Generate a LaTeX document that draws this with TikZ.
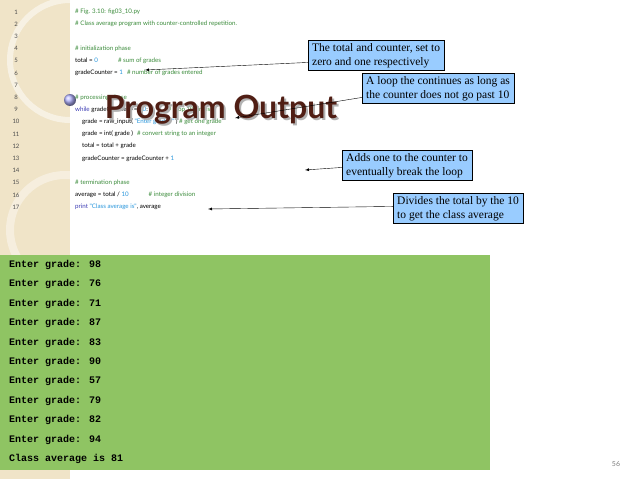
\documentclass[tikz,border=0pt]{standalone}
\usepackage{fontspec}
\setmainfont{Liberation Serif}
\newfontfamily\codef{Lato}
\newfontfamily\monof{Liberation Mono}
\newfontfamily\titlef{Lato}
\definecolor{beige}{RGB}{240,228,200}
\definecolor{cmt}{RGB}{60,140,60}
\definecolor{num}{RGB}{40,150,220}
\definecolor{kw}{RGB}{60,60,180}
\definecolor{outgreen}{RGB}{143,196,99}
\definecolor{callout}{RGB}{153,204,255}
\definecolor{brownt}{RGB}{80,30,20}
\tikzset{
  code/.style={anchor=west,font=\codef\fontsize{6.2}{7}\selectfont,inner sep=0},
  lnum/.style={anchor=center,font=\codef\fontsize{6}{7}\selectfont,text=black!70,inner sep=0},
  outl/.style={anchor=west,font=\monof\bfseries\fontsize{10}{12}\selectfont,inner sep=0},
  callbox/.style={draw=black,fill=callout,anchor=north west,align=left,font=\fontsize{11.5}{14}\selectfont,inner xsep=4pt,inner ysep=3pt},
  arr/.style={-latex,thin}
}
\begin{document}
\begin{tikzpicture}[x=1pt,y=-1pt]
\useasboundingbox (0,0) rectangle (638,479);
\fill[white] (0,0) rectangle (638,479);
\fill[beige] (0,0) rectangle (70,479);
\draw[white,line width=6pt,opacity=0.5] (70,60) circle (60);
\draw[white,line width=8pt,opacity=0.4] (65,230) circle (55);
\shade[ball color=blue!30] (70,100) circle (6);
% line numbers
\foreach \i in {1,...,17} \node[lnum] (n\i) at (16,{12+(\i-1)*12.2}) {\i};
% code
\node[code] (c1) at (75,12) {\textcolor{cmt}{\# Fig. 3.10: fig03\_10.py}};
\node[code] (c2) at (75,24.2) {\textcolor{cmt}{\# Class average program with counter-controlled repetition.}};
\node[code] (c4) at (75,48.6) {\textcolor{cmt}{\# initialization phase}};
\node[code] (c5) at (75,60.8) {total = \textcolor{num}{0}\hspace{20pt}\textcolor{cmt}{\# sum of grades}};
\node[code] (c6) at (75,73) {gradeCounter = \textcolor{num}{1}\hspace{4pt}\textcolor{cmt}{\# number of grades entered}};
\node[code] (c8) at (75,97.4) {\textcolor{cmt}{\# processing phase}};
\node[code] (c9) at (75,109.6) {\textcolor{kw}{while} gradeCounter <= \textcolor{num}{10}:\hspace{20pt}\textcolor{cmt}{\# loop 10 times}};
\node[code] (c10) at (82,121.8) {grade = raw\_input( \textcolor{num}{"Enter grade: "} ) \textcolor{cmt}{\# get one grade}};
\node[code] (c11) at (82,134) {grade = int( grade )\hspace{4pt}\textcolor{cmt}{\# convert string to an integer}};
\node[code] (c12) at (82,146.2) {total = total + grade};
\node[code] (c13) at (82,158.4) {gradeCounter = gradeCounter + \textcolor{num}{1}};
\node[code] (c15) at (75,182.8) {\textcolor{cmt}{\# termination phase}};
\node[code] (c16) at (75,195) {average = total / \textcolor{num}{10}\hspace{20pt}\textcolor{cmt}{\# integer division}};
\node[code] (c17) at (75,207.2) {\textcolor{kw}{print} \textcolor{num}{"Class average is"}, average};
% title
\node[font=\titlef\bfseries\fontsize{32}{36}\selectfont,text=gray!60] at (223,112) {Program Output};
\node[font=\titlef\bfseries\fontsize{32}{36}\selectfont,text=brownt] (title) at (221,110) {Program Output};
% callouts
\node[callbox] (b1) at (308,40) {The total and counter, set to\\zero and one respectively};
\node[callbox] (b2) at (362,73) {A loop the continues as long as\\the counter does not go past 10};
\node[callbox] (b3) at (342,150) {Adds one to the counter to\\eventually break the loop};
\node[callbox] (b4) at (393,193) {Divides the total by the 10\\to get the class average};
\coordinate (t1) at (145,70);
\coordinate (t2) at (235,118);
\coordinate (t3) at (305,170);
\coordinate (t4) at (208,209);
\draw[arr] (b1.west) ++(0,7) -- (t1);
\draw[arr] (b2.west) ++(0,9) -- (t2);
\draw[arr] (b3.west) ++(0,2) -- (t3);
\draw[arr] (b4.west) ++(0,-2) -- (t4);
% output
\fill[outgreen] (0,255) rectangle (490,470);
\foreach \g [count=\k] in {98,76,71,87,83,90,57,79,82,94}
  \node[outl] (o\k) at (9,{265+(\k-1)*19.4}) {Enter grade: \g};
\node[outl] (oavg) at (9,459) {Class average is 81};
\node[font=\codef\fontsize{7}{8}\selectfont,text=gray] (pg) at (616,464) {56};
\end{tikzpicture}
\end{document}
